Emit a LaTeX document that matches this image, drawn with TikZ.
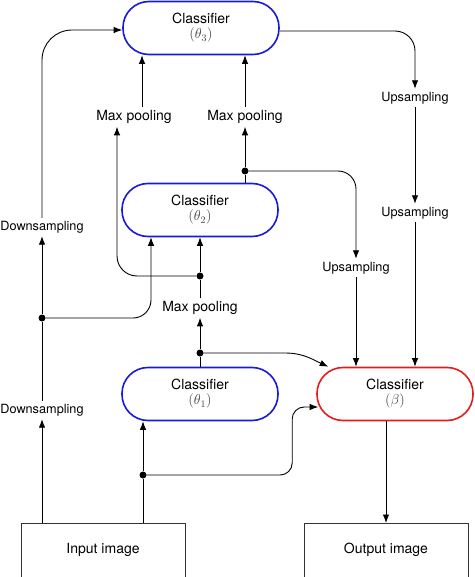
\documentclass[tikz,border=0pt]{standalone}
\usepackage{fontspec}
\setmainfont{TeX Gyre Heros}
\usetikzlibrary{arrows.meta,calc}
\definecolor{cblue}{RGB}{25,25,220}
\definecolor{cred}{RGB}{230,28,28}
\begin{document}
\begin{tikzpicture}[x=1pt,y=-1pt,
  clf/.style={draw=#1,line width=1.6pt,rounded corners=26pt,minimum width=156pt,minimum height=53pt,inner sep=0pt,align=center,font=\fontsize{14}{17}\selectfont},
  box/.style={draw=black!80,line width=0.9pt,minimum width=164pt,minimum height=80pt,anchor=north},
  txt/.style={font=\fontsize{14}{16}\selectfont,inner sep=3pt},
  lbl/.style={font=\fontsize{12.7}{15}\selectfont,inner sep=3pt},
  arr/.style={-{Latex[length=8.5pt,width=6.5pt]},line width=0.9pt},
  ln/.style={line width=0.9pt},
  dot/.style={circle,fill=black,inner sep=0pt,minimum size=7pt}]
\useasboundingbox (0,0) rectangle (474,577);
% classifiers
\node[clf=cblue] (c3) at (201,28) {Classifier\\[-2pt]{\color{black!75}$(\theta_3)$}};
\node[clf=cblue] (c2) at (200,210) {Classifier\\[-2pt]{\color{black!75}$(\theta_2)$}};
\node[clf=cblue] (c1) at (200,394) {Classifier\\[-2pt]{\color{black!75}$(\theta_1)$}};
\node[clf=cred] (cb) at (395,394) {Classifier\\[-2pt]{\color{black!75}$(\beta)$}};
% boxes
\node[box] (in) at (103,523) {};
\node[box] (out) at (386,523) {};
\node[txt] (intxt) at (103,550) {Input image};
\node[txt] (outtxt) at (386,550) {Output image};
% labels
\node[lbl] (ds1) at (42,410) {Downsampling};
\node[lbl] (ds2) at (42,227) {Downsampling};
\node[txt] (mp1) at (200,308) {Max pooling};
\node[txt] (mpL) at (134,117) {Max pooling};
\node[txt] (mpR) at (245,117) {Max pooling};
\node[lbl] (up1) at (356,268) {Upsampling};
\node[lbl] (upA) at (415,98) {Upsampling};
\node[lbl] (upB) at (415,213) {Upsampling};
% dots
\node[dot] (d1) at (42,318) {};
\node[dot] (d2) at (143,475) {};
\node[dot] (d3) at (200,353) {};
\node[dot] (d4) at (200,276) {};
\node[dot] (d5) at (245,171) {};
% left column
\draw[arr] (ds1 |- in.north) -- (ds1.south);
\draw[ln] (ds1.north) -- (d1);
\draw[arr] (d1) -- (ds2.south);
\draw[arr,rounded corners=30pt] (ds2.north) |- ([yshift=-2]c3.west);
\draw[arr,rounded corners=18pt] (d1) -| ([xshift=-49]c2.south);
% input to theta1 and beta
\draw[ln] (d2 |- in.north) -- (d2);
\draw[arr] (d2) -- (d2 |- c1.south);
\draw[arr,rounded corners=12pt] (d2) -| ($(cb.west)+(-24,13)$) -- ($(cb.west)+(2,13)$);
% theta1 up
\draw[ln] (c1.north) -- (d3);
\draw[arr] (d3) -- (mp1.south);
\draw[arr] (d3) -- (285,353) to[out=0,in=155] ($(cb.north west)+(12,0)$);
\draw[ln] (mp1.north) -- (d4);
\draw[arr] (d4) -- (c2.south);
\draw[arr,rounded corners=20pt] (d4) -| ([xshift=-17]mpL.south);
\draw[arr] ([xshift=8]mpL.north) -- ([xshift=8]mpL.north |- c3.south);
% theta2 up
\draw[ln] ([xshift=45]c2.north) -- (d5);
\draw[arr] (d5) -- (mpR.south);
\draw[arr] (mpR.north) -- (mpR.north |- c3.south);
\draw[arr,rounded corners=18pt] (d5) -| (up1.north);
\draw[arr] (up1.south) -- (up1.south |- cb.north);
% theta3 right
\draw[arr,rounded corners=20pt] ([yshift=-3]c3.east) -| (upA.north);
\draw[arr] (upA.south) -- (upB.north);
\draw[arr] (upB.south) -- (upB.south |- cb.north);
% beta to output
\draw[arr] ([xshift=-9]cb.south) -- ([xshift=-9]cb.south |- out.north);
\end{tikzpicture}
\end{document}
